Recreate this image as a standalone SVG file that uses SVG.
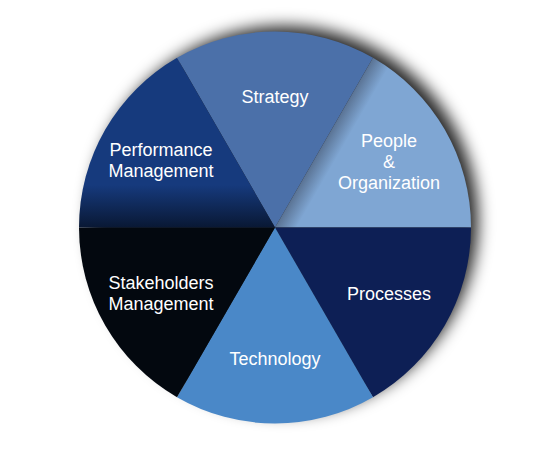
<svg xmlns="http://www.w3.org/2000/svg" width="558" height="451" viewBox="0 0 558 451">
  <defs>
    <filter id="shadow" x="-30%" y="-30%" width="160%" height="160%">
      <feGaussianBlur stdDeviation="8"/>
    </filter>
    <linearGradient id="perfGrad" gradientUnits="userSpaceOnUse" x1="0" y1="185" x2="0" y2="227.5">
      <stop offset="0" stop-color="#163a7d"/>
      <stop offset="1" stop-color="#091834"/>
    </linearGradient>
    <linearGradient id="peopleGrad" gradientUnits="userSpaceOnUse" x1="324" y1="142.6" x2="340" y2="151.8">
      <stop offset="0" stop-color="#5a7394"/>
      <stop offset="1" stop-color="#7fa6d3"/>
    </linearGradient>
  </defs>
  <style>
    .lbl { font-family: "Liberation Sans", Arial, Helvetica, sans-serif; font-size: 18px; fill: #ffffff; text-anchor: middle; }
  </style>
  <rect width="558" height="451" fill="#ffffff"/>
  <circle cx="284" cy="220" r="194" fill="#000000" fill-opacity="0.85" filter="url(#shadow)"/>

  <g id="strategy">
    <path d="M275,227.5 L373,57.76 A196,196 0 0,0 177,57.76 Z" fill="#4b70a9"/>
    <text class="lbl" x="275" y="103">Strategy</text>
  </g>
  <g id="people-organization">
    <path d="M275,227.5 L471,227.5 A196,196 0 0,0 373,57.76 Z" fill="url(#peopleGrad)"/>
    <text class="lbl" x="389" y="147">People</text>
    <text class="lbl" x="389" y="168">&amp;</text>
    <text class="lbl" x="389" y="189">Organization</text>
  </g>
  <g id="processes">
    <path d="M275,227.5 L373,397.24 A196,196 0 0,0 471,227.5 Z" fill="#0d1f55"/>
    <text class="lbl" x="389" y="300">Processes</text>
  </g>
  <g id="technology">
    <path d="M275,227.5 L177,397.24 A196,196 0 0,0 373,397.24 Z" fill="#4a88c8"/>
    <text class="lbl" x="275" y="365">Technology</text>
  </g>
  <g id="stakeholders-management">
    <path d="M275,227.5 L79,227.5 A196,196 0 0,0 177,397.24 Z" fill="#03080f"/>
    <text class="lbl" x="161" y="289">Stakeholders</text>
    <text class="lbl" x="161" y="310">Management</text>
  </g>
  <g id="performance-management">
    <path d="M275,227.5 L177,57.76 A196,196 0 0,0 79,227.5 Z" fill="url(#perfGrad)"/>
    <text class="lbl" x="161" y="156">Performance</text>
    <text class="lbl" x="161" y="177">Management</text>
  </g>
</svg>
